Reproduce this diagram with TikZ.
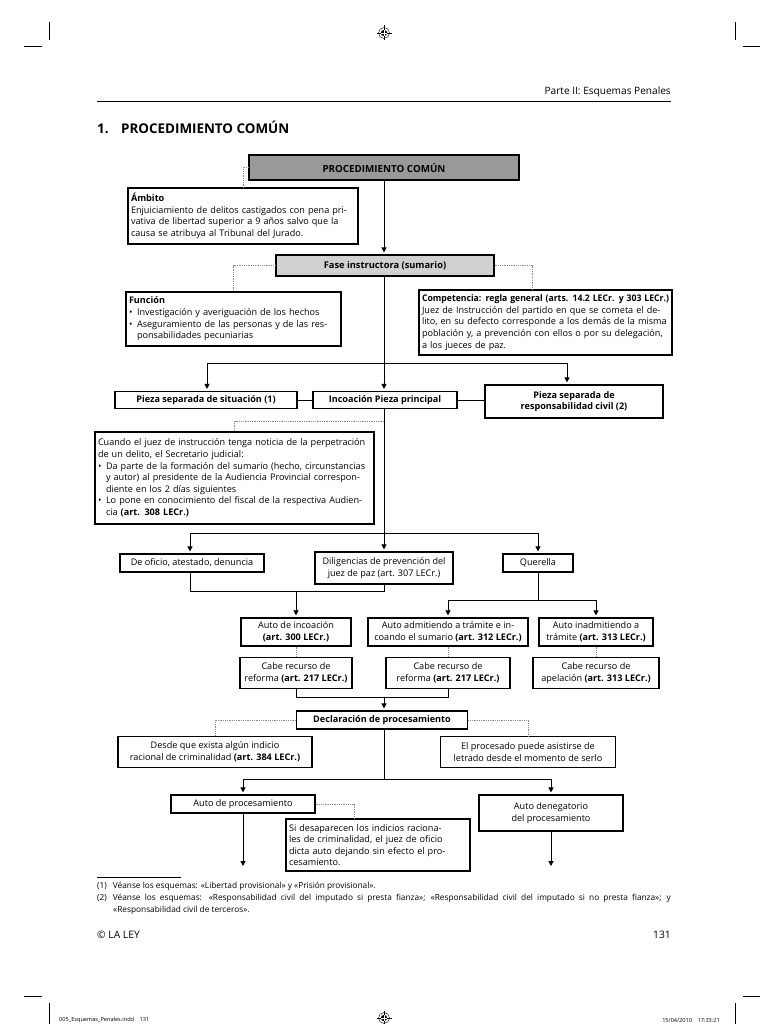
\documentclass[tikz,border=0pt]{standalone}
\usepackage{fontspec}
\usepackage{graphicx}
\setmainfont{Open Sans}
\usetikzlibrary{arrows.meta,calc}
\newsavebox\jlbox
\newcommand\jlw[2]{\sbox\jlbox{#2}\ifdim\wd\jlbox>#1\relax\resizebox{#1}{\height}{\usebox\jlbox}\else\makebox[#1][s]{#2}\fi}
\newcommand\jl[1]{\jlw{\linewidth}{#1}}
\newcommand\bul{\makebox[8pt][l]{•}}
\newcommand\jli[1]{\hspace*{8pt}\jlw{\dimexpr\linewidth-8pt\relax}{#1}}
\newcommand\fsn{\fontsize{9.1}{11.6}\selectfont}
\tikzset{
  bx/.style={draw=black, line width=1.2pt, fill=white, inner xsep=3pt, inner ysep=1.5pt, font=\fsn},
  cbx/.style={bx, align=center, inner xsep=4pt},
  tbx/.style={bx, align=left},
  ln/.style={line width=1pt},
  arr/.style={line width=1pt, -{Triangle[length=5pt,width=5pt]}, shorten >=2pt},
  dotl/.style={draw=black!45, line width=0.6pt, dash pattern=on 0.8pt off 1pt},
  regm/.pic={
    \draw[line width=0.4pt] (0,0) circle (5.5);
    \fill (0,0) circle (3.2);
    \draw[white,line width=0.5pt] (-3.2,0)--(3.2,0) (0,-3.2)--(0,3.2);
    \draw[line width=0.4pt] (-7.5,0)--(-3.2,0) (3.2,0)--(7.5,0) (0,-7.5)--(0,-3.2) (0,3.2)--(0,7.5);
  },
  plain/.style={inner sep=0pt}
}
\begin{document}
\begin{tikzpicture}[x=1pt,y=-1pt]
\useasboundingbox (0,0) rectangle (768,1024);
\fill[white] (0,0) rectangle (768,1024);

% crop marks and registration
\draw[line width=0.6pt] (49,22)--(49,40) (24,46)--(42,46) (735,22)--(735,40) (743,46)--(760,46);
\draw[line width=0.6pt] (49,1003)--(49,1024) (24,996)--(42,996) (735,1003)--(735,1024) (743,996)--(760,996);
\pic at (384,33) {regm};
\pic at (384,1018) {regm};
\node[plain, anchor=west, font=\fontsize{5.6}{6}\selectfont] (slug1) at (59,1020) {005\_Esquemas\_Penales.indd\quad 131};
\node[plain, anchor=east, font=\fontsize{5.6}{6}\selectfont] (slug2) at (720,1020) {15/04/2010\quad 17:33:21};

% header
\node[plain, anchor=base east, font=\fontsize{10.1}{12}\selectfont] (hdr) at (671,95) {Parte II: Esquemas Penales};
\draw[line width=0.9pt] (97,101) -- (671,101);
\node[plain, anchor=base west, font=\bfseries\fontsize{13.4}{15}\selectfont] (tnum) at (97,134) {1.};
\node[plain, anchor=base west, font=\bfseries\fontsize{13.4}{15}\selectfont] (ttl) at (121,134) {PROCEDIMIENTO COMÚN};

% boxes
\node[bx, fill=black!40, minimum width=270, minimum height=25, font=\bfseries\fontsize{9.8}{12}\selectfont] (main) at (384,167.5) {PROCEDIMIENTO COMÚN};
\node[tbx, text width=224, minimum height=56] (ambito) at (243,216) {\textbf{Ámbito}\\
\jl{Enjuiciamiento de delitos castigados con pena pri-}\\
\jl{vativa de libertad superior a 9 años salvo que la}\\
causa se atribuya al Tribunal del Jurado.};
\node[bx, fill=black!18, minimum width=218, minimum height=21, font=\bfseries\fontsize{9.3}{11}\selectfont] (fase) at (385,265.5) {Fase instructora (sumario)};
\node[tbx, text width=209, minimum height=54] (funcion) at (233.5,319) {\textbf{Función}\\
\bul Investigación y averiguación de los hechos\\
\jl{\bul Aseguramiento de las personas y de las res-}\\
\hspace*{8pt}ponsabilidades pecuniarias};
\node[tbx, text width=247, minimum height=65] (compet) at (545.5,322.5) {\jl{\bfseries Competencia: regla general (arts. 14.2 LECr. y 303 LECr.)}\\
\jl{Juez de Instrucción del partido en que se cometa el de-}\\
\jl{lito, en su defecto corresponde a los demás de la misma}\\
\jl{población y, a prevención con ellos o por su delegación,}\\
a los jueces de paz.};

\node[cbx, minimum width=182, minimum height=17, font=\bfseries\fsn] (piezasit) at (206,400) {Pieza separada de situación (1)};
\node[cbx, minimum width=144, minimum height=17, font=\bfseries\fsn] (incoacion) at (385,400) {Incoación Pieza principal};
\node[cbx, minimum width=178, minimum height=33, font=\bfseries\fsn] (piezaresp) at (574,401.5) {Pieza separada de\\responsabilidad civil (2)};

\node[tbx, text width=273, minimum height=92] (cuando) at (234.5,478) {\jl{Cuando el juez de instrucción tenga noticia de la perpetración}\\
de un delito, el Secretario judicial:\\
\jl{\bul Da parte de la formación del sumario (hecho, circunstancias}\\
\jli{y autor) al presidente de la Audiencia Provincial correspon-}\\
\hspace*{8pt}diente en los 2 días siguientes\\
\jl{\bul Lo pone en conocimiento del fiscal de la respectiva Audien-}\\
\hspace*{8pt}cia \textbf{(art. 308 LECr.)}};

\node[cbx, minimum width=144, minimum height=18] (deoficio) at (192,563) {De oficio, atestado, denuncia};
\node[cbx, minimum width=138, minimum height=32] (diligencias) at (384,568) {Diligencias de prevención del\\juez de paz (art. 307 LECr.)};
\node[cbx, minimum width=70, minimum height=18] (querella) at (538,563) {Querella};

\node[cbx, minimum width=110, minimum height=28] (autoinc) at (296,632) {Auto de incoación\\\textbf{(art. 300 LECr.)}};
\node[cbx, minimum width=160, minimum height=28] (autoadm) at (448,632) {Auto admitiendo a trámite e in-\\coando el sumario \textbf{(art. 312 LECr.)}};
\node[cbx, minimum width=114, minimum height=28] (autoinad) at (596,632) {Auto inadmitiendo a\\trámite \textbf{(art. 313 LECr.)}};

\node[cbx, minimum width=112, minimum height=31] (cabe1) at (296,673) {Cabe recurso de\\reforma \textbf{(art. 217 LECr.)}};
\node[cbx, minimum width=124, minimum height=31] (cabe2) at (448,673) {Cabe recurso de\\reforma \textbf{(art. 217 LECr.)}};
\node[cbx, minimum width=126, minimum height=31] (cabe3) at (596,673) {Cabe recurso de\\apelación \textbf{(art. 313 LECr.)}};

\node[cbx, minimum width=171, minimum height=18, font=\bfseries\fsn] (decl) at (382,720) {Declaración de procesamiento};
\node[cbx, minimum width=194, minimum height=31] (desde) at (215,752) {Desde que exista algún indicio\\racional de criminalidad \textbf{(art. 384 LECr.)}};
\node[cbx, minimum width=175, minimum height=31] (elproc) at (528,752) {El procesado puede asistirse de\\letrado desde el momento de serlo};

\node[cbx, minimum width=144, minimum height=18] (autoproc) at (243,804) {Auto de procesamiento};
\node[cbx, minimum width=144, minimum height=36] (autodeneg) at (551,813) {Auto denegatorio\\del procesamiento};
\node[tbx, text width=178, minimum height=52] (si) at (378,845) {\jl{Si desaparecen los indicios raciona-}\\
\jl{les de criminalidad, el juez de oficio}\\
\jl{dicta auto dejando sin efecto el pro-}\\
cesamiento.};

% connectors
\draw[dotl] (main.west) -| (ambito.north);
\draw[arr] (main.south) -- (main.south |- fase.north);
\draw[dotl] (fase.west) -| (funcion.north);
\draw[dotl] (fase.east) -| ([xshift=-13pt]compet.north);

\coordinate (b1c) at (384,363);
\coordinate (b1l) at (207,363);
\coordinate (b1r) at (567,363);
\draw[ln] (fase.south -| b1c) -- (b1c);
\draw[ln] (b1l) -- (b1r);
\draw[arr] (b1l) -- (b1l |- piezasit.north);
\draw[arr] (b1c) -- (b1c |- incoacion.north);
\draw[arr] (b1r) -- (b1r |- piezaresp.north);
\draw[ln] (piezasit.east) -- (incoacion.west);
\draw[ln] (incoacion.east) -- (incoacion.east -| piezaresp.west);

\coordinate (d1) at (384,421);
\draw[dotl] (d1) -| (cuando.north);
\coordinate (b2c) at (384,533);
\coordinate (b2l) at (190,533);
\coordinate (b2r) at (538,533);
\draw[ln] (incoacion.south -| b2c) -- (b2c);
\draw[ln] (b2l) -- (b2r);
\draw[arr] (b2l) -- (b2l |- deoficio.north);
\draw[arr] (b2c) -- (b2c |- diligencias.north);
\draw[arr] (b2r) -- (b2r |- querella.north);

\coordinate (j3) at (296,591);
\draw[ln] (deoficio.south -| b2l) |- (j3);
\draw[ln] (diligencias.south) |- (j3);
\draw[arr] (j3) -- (autoinc.north);
\coordinate (j4) at (538,600);
\draw[ln] (querella.south) -- (j4);
\draw[ln] (autoadm.north |- j4) -- (autoinad.north |- j4);
\draw[arr] (autoadm.north |- j4) -- (autoadm.north);
\draw[arr] (autoinad.north |- j4) -- (autoinad.north);

\draw[dotl] (autoinc.south) -- (cabe1.north);
\draw[dotl] (autoadm.south) -- (cabe2.north);
\draw[dotl] (autoinad.south) -- (cabe3.north);

\coordinate (j5) at (384,697);
\draw[ln] (cabe1.south) |- (cabe2.south |- j5) -- (cabe2.south);
\draw[arr] (j5) -- (j5 |- decl.north);
\draw[dotl] (decl.west) -| (desde.north);
\draw[dotl] (decl.east) -| (elproc.north);

\coordinate (b3c) at (384,779);
\coordinate (b3l) at (243,779);
\coordinate (b3r) at (551,779);
\draw[ln] (decl.south -| b3c) -- (b3c);
\draw[ln] (b3l) -- (b3r);
\draw[arr] (b3l) -- (autoproc.north);
\draw[arr] (b3r) -- (autodeneg.north);
\draw[dotl] (autoproc.east) -| ([xshift=-24pt]si.north);
\coordinate (e1) at (243,868);
\coordinate (e2) at (551,868);
\draw[arr] (autoproc.south) -- (e1);
\draw[arr] (autodeneg.south) -- (e2);

% footnotes
\draw[line width=0.8pt] (97,877) -- (181,877);
\node[plain, anchor=west, font=\fontsize{8.3}{9}\selectfont] (fn1) at (97,886) {(1)\hspace{6pt}Véanse los esquemas: «Libertad provisional» y «Prisión provisional».};
\node[plain, anchor=west, font=\fontsize{8.3}{9}\selectfont] (fn2a) at (97,898) {(2)\hspace{6pt}\jlw{558pt}{Véanse los esquemas: «Responsabilidad civil del imputado si presta fianza»; «Responsabilidad civil del imputado si no presta fianza»; y}};
\node[plain, anchor=west, font=\fontsize{8.3}{9}\selectfont] (fn2b) at (113,910) {«Responsabilidad civil de terceros».};

% footer
\node[plain, anchor=west, font=\fontsize{10.3}{13}\selectfont] (cpy) at (97,935) {© LA LEY};
\node[plain, anchor=east, font=\fontsize{10.3}{13}\selectfont] (pg) at (671,935) {131};
\end{tikzpicture}
\end{document}
